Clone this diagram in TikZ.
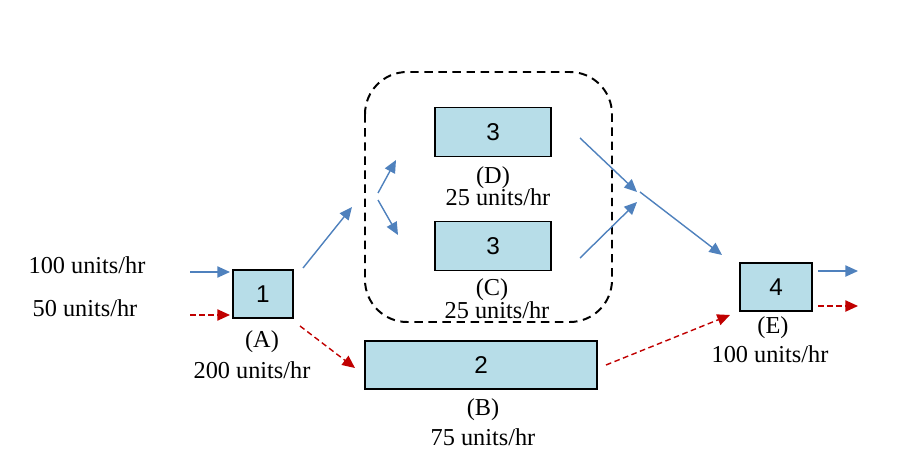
\documentclass[tikz,border=0pt]{standalone}
\usepackage{fontspec}
\setmainfont{Liberation Serif}
\newfontfamily\boxfont{Liberation Sans}
\usetikzlibrary{arrows.meta}
\definecolor{boxblue}{RGB}{183,221,232}
\definecolor{flowblue}{RGB}{79,129,189}
\definecolor{flowred}{RGB}{192,0,0}
\tikzset{
    station/.style = {draw, fill=boxblue, line width=1pt, font=\boxfont\LARGE, inner sep=0pt},
    rate/.style = {font=\LARGE, inner sep=0pt},
    flow/.style = {-{Triangle[length=9pt,width=8pt]}, flowblue, line width=1pt},
    rework/.style = {-{Triangle[length=9pt,width=8pt]}, flowred, line width=1pt, dash pattern=on 4pt off 2.5pt}
}
\begin{document}
\begin{tikzpicture}%
    [x=0.025cm, y=-0.025cm]
    \useasboundingbox (0,0) rectangle (912,472);
    \draw[dash pattern=on 6pt off 4pt, line width=1.4pt, rounded corners=30pt] (365,72) rectangle (612,322);

    \node[station, minimum width=60*0.025cm, minimum height=48*0.025cm] (A) at (263,294) {1};
    \node[station, minimum width=232*0.025cm, minimum height=48*0.025cm] (B) at (481,365) {2};
    \node[station, minimum width=116*0.025cm, minimum height=49*0.025cm] (D) at (493,132) {3};
    \node[station, minimum width=116*0.025cm, minimum height=49*0.025cm] (C) at (493,246) {3};
    \node[station, minimum width=72*0.025cm, minimum height=48*0.025cm] (E) at (776,287) {4};

    \node[rate] (inBlue) at (87,265) {100 units/hr};
    \node[rate] (inRed) at (85,308) {50 units/hr};
    \node[rate] (labA) at (262,342) {(A)};
    \node[rate] (rateA) at (252,370) {200 units/hr};
    \node[rate] (labD) at (493,178) {(D)};
    \node[rate] (rateD) at (498,197) {25 units/hr};
    \node[rate] (labC) at (492,290) {(C)};
    \node[rate] (rateC) at (497,310) {25 units/hr};
    \node[rate] (labB) at (483,410) {(B)};
    \node[rate] (rateB) at (483,437) {75 units/hr};
    \node[rate] (labE) at (773,328) {(E)};
    \node[rate] (rateE) at (770,354) {100 units/hr};

    \coordinate (b1s) at (190,272); \coordinate (b1e) at (230,272);
    \coordinate (b2s) at (303,268); \coordinate (b2e) at (352,207);
    \coordinate (b3s) at (378,193); \coordinate (b3e) at (396,160);
    \coordinate (b4s) at (378,200); \coordinate (b4e) at (398,235);
    \coordinate (b5s) at (580,138); \coordinate (b5e) at (637,192);
    \coordinate (b6s) at (580,258); \coordinate (b6e) at (637,202);
    \coordinate (b7s) at (640,192); \coordinate (b7e) at (722,255);
    \coordinate (b8s) at (818,271); \coordinate (b8e) at (858,271);
    \coordinate (r1s) at (190,315); \coordinate (r1e) at (230,315);
    \coordinate (r2s) at (300,326); \coordinate (r2e) at (355,368);
    \coordinate (r3s) at (606,365); \coordinate (r3e) at (730,315);
    \coordinate (r4s) at (818,306); \coordinate (r4e) at (858,306);

    \foreach \i in {1,...,8}
        \draw[flow] (b\i s) -- (b\i e);
    \foreach \i in {1,...,4}
        \draw[rework] (r\i s) -- (r\i e);
\end{tikzpicture}
\end{document}
